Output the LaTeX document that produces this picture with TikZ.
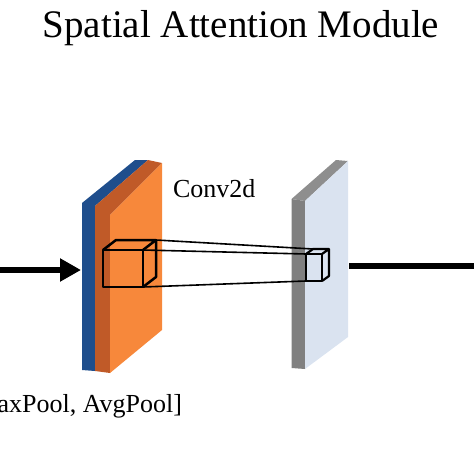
\documentclass[tikz,border=0pt]{standalone}
\usepackage{fontspec}
\setmainfont{Liberation Serif}
\usetikzlibrary{arrows.meta}

\definecolor{poolblue}{HTML}{1F4E8C}
\definecolor{poolbrown}{HTML}{C05A28}
\definecolor{poolorange}{HTML}{F7883B}
\definecolor{attgray}{HTML}{808080}
\definecolor{attgraytop}{HTML}{8E8E8E}
\definecolor{attface}{HTML}{DAE3F0}

\begin{document}
\begin{tikzpicture}[x=1pt, y=-1pt, line join=round, inner sep=0pt,
    outer sep=0pt]

  \tikzstyle{heading}=[font=\fontsize{39}{47}\selectfont]
  \tikzstyle{txt}=[font=\fontsize{26}{31}\selectfont]
  \tikzstyle{cube}=[draw=black, line width=2.5pt]
  \tikzstyle{ray}=[draw=black, line width=1.6pt]
  \tikzstyle{flow}=[line width=6pt]

  \useasboundingbox (0,0) rectangle (474,474);
  \clip (0,0) rectangle (474,474);

  % texts
  \node[heading, anchor=base] (TITLE) at (241,37.3) {Spatial Attention Module};
  \node[txt, anchor=base west] (CONV) at (173,197) {Conv2d};
  \node[txt, anchor=base east] (POOL) at (182,412) {[MaxPool, AvgPool]};

  % pooled maps
  \fill[poolblue] (82,203) -- (135,160) -- (148,160) -- (95,206) -- (95,371)
  -- (82,370) -- cycle;
  \fill[poolbrown] (95,206) -- (148,160) -- (162,163) -- (110,215) -- (110,373)
  -- (95,371) -- cycle;
  \fill[poolorange] (110,215) -- (162,163) -- (162,330) -- (110,373) -- cycle;

  % attention map
  \fill[attgraytop] (291.5,199) -- (336,160) -- (348,161) -- (305,201) -- cycle;
  \fill[attgray] (291.5,199) -- (305,201) -- (305,369) -- (291.5,368) -- cycle;
  \fill[attface] (305,201) -- (348,161) -- (348,337) -- (305,369) -- cycle;

  % kernel
  \coordinate (BFTL) at (103,250);
  \coordinate (BFTR) at (143,250);
  \coordinate (BFBR) at (143,287);
  \coordinate (BBTL) at (116,240);
  \coordinate (BBTR) at (156,240);
  \coordinate (BBBR) at (156,277);
  \draw[cube] (BFTL) rectangle (BFBR);
  \draw[cube] (BFTL) -- (BBTL) -- (BBTR) -- (BBBR) -- (BFBR) (BBTR) -- (BFTR);

  % output pixel
  \coordinate (SFTL) at (306,254);
  \coordinate (SFTR) at (322,254);
  \coordinate (SFBR) at (322,281);
  \coordinate (SFBL) at (306,281);
  \coordinate (SBTL) at (313,249);
  \coordinate (SBTR) at (329,249);
  \coordinate (SBBR) at (329,276);
  \draw[ray] (BBTR) -- (SBTL);
  \draw[ray] (BFTR) -- (SFTL);
  \draw[ray] (BFBR) -- (SFBL);
  \draw[cube, line width=2.2pt] (SFTL) rectangle (SFBR);
  \draw[cube, line width=2.2pt] (SFTL) -- (SBTL) -- (SBTR) -- (SBBR) -- (SFBR)
  (SBTR) -- (SFTR);

  % in and out
  \coordinate (IN) at (-5,270);
  \coordinate (INTIP) at (81,270);
  \coordinate (OUT) at (349,266);
  \coordinate (OUTEND) at (480,266);
  \draw[flow, -{Triangle[length=21pt, width=22pt]}] (IN) -- (INTIP);
  \draw[flow, line width=6.5pt] (OUT) -- (OUTEND);
\end{tikzpicture}
\end{document}
